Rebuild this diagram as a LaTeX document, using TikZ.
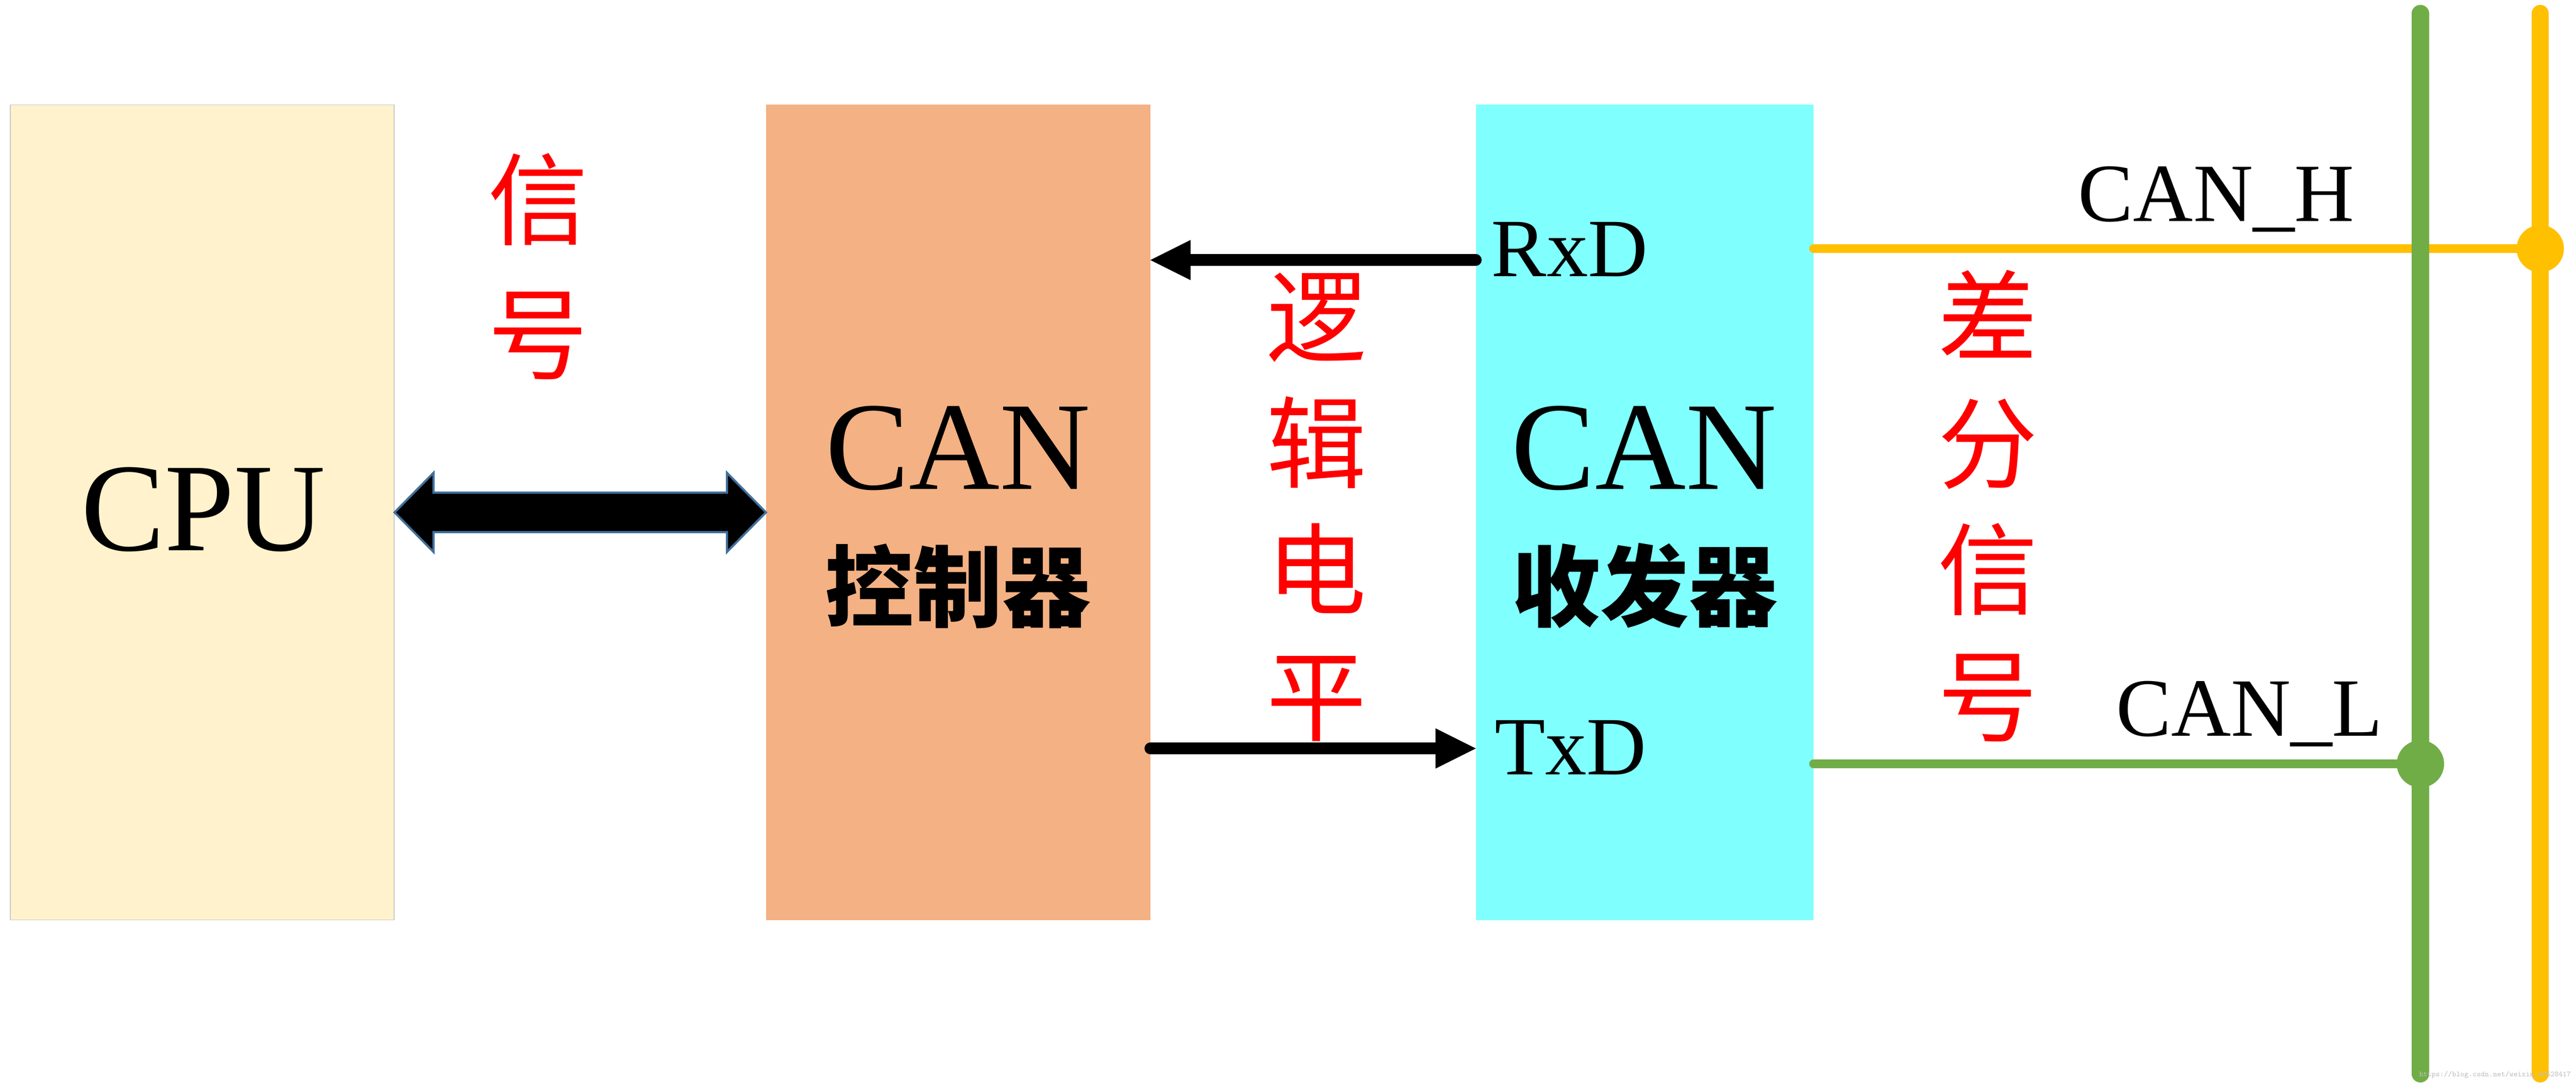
\documentclass[tikz,border=0pt]{standalone}
\usepackage{fontspec}
\setmainfont{Liberation Serif}
\newfontfamily\cjk{Noto Sans CJK SC}
\usetikzlibrary{arrows.meta,positioning}
\definecolor{cpuyellow}{HTML}{FFF2CC}
\definecolor{ctrlorange}{HTML}{F4B183}
\definecolor{trxcyan}{HTML}{80FFFF}
\definecolor{edgegray}{HTML}{C9C9C9}
\definecolor{arrowblue}{HTML}{41719C}
\definecolor{busgreen}{HTML}{70AD47}
\definecolor{busyellow}{HTML}{FFC000}
\tikzstyle{block} = [rectangle, minimum height=20.06cm, inner sep=0pt, draw=edgegray, line width=0.6pt]
\tikzstyle{bigword} = [font=\fontsize{88}{90}\selectfont, anchor=base, inner sep=0pt]
\tikzstyle{pin} = [font=\fontsize{58}{60}\selectfont, anchor=base west, inner sep=0pt]
\tikzstyle{boxword} = [font=\cjk\bfseries\fontsize{62}{64}\selectfont, inner sep=0pt]
\tikzstyle{redword} = [text=red, align=center, inner sep=0pt, font=\cjk\fontsize{70}{88.6}\selectfont]
\tikzstyle{logic} = [line width=8.2pt, line cap=round, -{Triangle[length=9.9mm, width=9.9mm, line width=0pt]}]
\tikzstyle{busline} = [line width=0.42cm, line cap=round]
\tikzstyle{tap} = [line width=0.21cm, line cap=round]
\tikzstyle{joint} = [circle, minimum size=1.16cm, inner sep=0pt]

\begin{document}
\begin{tikzpicture}
        \useasboundingbox (0,0) rectangle (63.4,-26.65);
        % the three blocks
        \node (cpu)  [block, fill=cpuyellow, minimum width=9.45cm] at (4.975,-12.61) {};
        \node (ctrl) [block, fill=ctrlorange, draw=ctrlorange, minimum width=9.44cm, right=9.14cm of cpu] {};
        \node (trx)  [block, fill=trxcyan, draw=trxcyan, minimum width=8.29cm, right=8.01cm of ctrl] {};
        \node (cpuname)  [bigword] at (5.0,-13.55) {CPU};
        \node (ctrlname) [bigword] at (23.58,-12.04) {CAN};
        \node (ctrlcn)   [boxword] at (23.58,-14.42) {控制器};
        \node (trxname)  [bigword] at (40.46,-12.04) {CAN};
        \node (trxcn)    [boxword] at (40.48,-14.41) {收发器};
        \node (rxd) [pin] at (36.70,-6.80) {RxD};
        \node (txd) [pin] at (36.78,-19.07) {TxD};
        % red captions
        \node (sig)   [redword] at (13.24,-6.56) {信\\[5.4pt]号};
        \node (level) [redword] at (32.40,-12.48) {逻\\辑\\电\\平};
        \node (diff)  [redword] at (48.93,-12.45) {差\\分\\信\\号};
        % cpu <-> controller
        \draw [fill=black, draw=arrowblue, line width=1.5pt, line join=miter]
            (cpu.east) -- ++(0.96,0.975) -- ++(0,-0.49)
            -- ([shift={(-0.96,0.485)}]ctrl.west) -- ++(0,0.49) -- (ctrl.west)
            -- ++(-0.96,-0.975) -- ++(0,0.49)
            -- ([shift={(0.96,-0.485)}]cpu.east) -- ++(0,-0.49) -- cycle;
        % logic level lines
        \draw [logic] ([yshift=6.21cm]trx.west) -- ([yshift=6.21cm]ctrl.east);
        \draw [logic] ([yshift=-5.81cm]ctrl.east) -- ([yshift=-5.81cm]trx.west);
        % bus
        \coordinate (ltop) at (59.57,-0.33);
        \coordinate (lbot) at (59.57,-26.43);
        \coordinate (htop) at (62.52,-0.33);
        \coordinate (hbot) at (62.52,-26.43);
        \node (hdot) [joint, fill=busyellow] at (62.52,-6.12) {};
        \node (ldot) [joint, fill=busgreen] at (59.57,-18.80) {};
        \draw [tap, busyellow] (trx.east |- hdot) -- (hdot);
        \draw [tap, busgreen] (trx.east |- ldot) -- (ldot);
        \draw [busline, busgreen] (ltop) -- (lbot);
        \draw [busline, busyellow] (htop) -- (hbot);
        \node [joint, fill=busyellow] at (hdot) {};
        \node [joint, fill=busgreen] at (ldot) {};
        \node (canh) [pin] at (51.14,-5.44) {CAN\_H};
        \node (canl) [pin] at (52.07,-18.11) {CAN\_L};
        \node (mark) [font=\ttfamily\fontsize{5.4}{6}\selectfont, text=black!25, anchor=east, inner sep=0pt] at (63.28,-26.45) {https://blog.csdn.net/weixin\_40528417};
    \end{tikzpicture}
\end{document}
